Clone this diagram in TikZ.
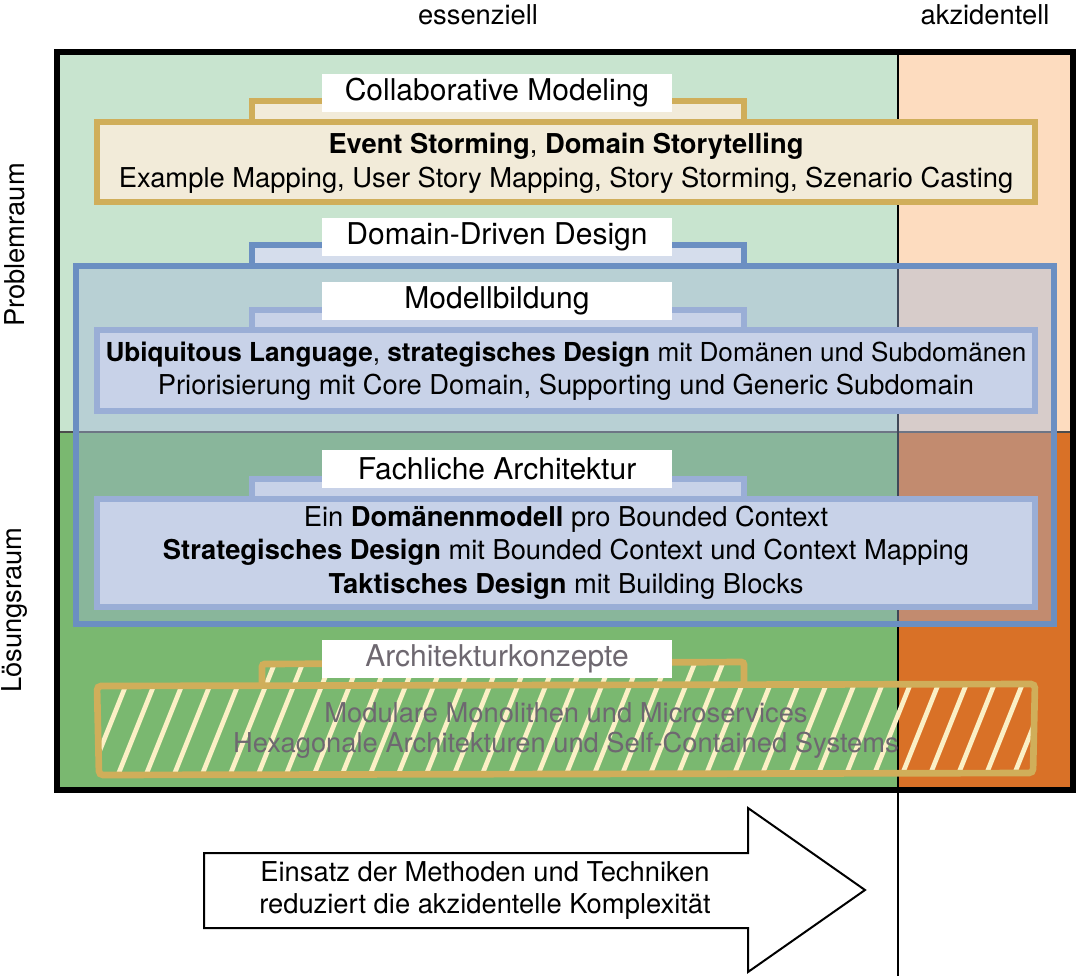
\documentclass[tikz,border=0pt]{standalone}
\usepackage{fontspec}
\setmainfont{TeX Gyre Heros}
\begin{document}
\begin{tikzpicture}[x=0.75pt,y=-0.75pt,
  lbl/.style={fill=white,minimum width=262.5pt,minimum height=29pt,inner sep=0pt,font=\fontsize{22.5}{26}\selectfont},
  txt/.style={font=\fontsize{20.5}{24}\selectfont,inner sep=0pt},
  gold/.style={draw=goldc,line width=5pt},
  blu/.style={draw=bluec,line width=5pt},
  lblu/.style={draw=lbluec,line width=5pt}]
\definecolor{goldc}{HTML}{D0AE5A}
\definecolor{bluec}{HTML}{6B8FC2}
\definecolor{lbluec}{HTML}{9AAED6}
\definecolor{grayt}{HTML}{6E6870}
\useasboundingbox (0,0) rectangle (1076,976);
% backgrounds
\fill[fill={rgb,255:red,200;green,228;blue,207}] (57,52) rectangle (898,432);
\fill[fill={rgb,255:red,253;green,220;blue,191}] (898,52) rectangle (1073,432);
\fill[fill={rgb,255:red,122;green,184;blue,112}] (57,432) rectangle (898,790);
\fill[fill={rgb,255:red,217;green,113;blue,39}] (898,432) rectangle (1073,790);
\draw[line width=2pt,black!70] (57,432) -- (1073,432);
\draw[line width=2pt] (898,52) -- (898,976);
% headers
\node[txt] (h1) at (478,15) {essenziell};
\node[txt] (h2) at (985,15) {akzidentell};
\node[txt,rotate=90] (s1) at (15,245) {Problemraum};
\node[txt,rotate=90] (s2) at (15,610) {Lösungsraum};
% Collaborative modeling
\filldraw[gold,fill={rgb,255:red,242;green,235;blue,217}] (252,101) rectangle (744,122);
\filldraw[gold,fill={rgb,255:red,242;green,235;blue,217}] (97,122) rectangle (1035,202);
\node[lbl] (cm) at (497,93) {Collaborative Modeling};
\node[txt] (cm1) at (566,146) {\textbf{Event Storming}, \textbf{Domain Storytelling}};
\node[txt] (cm2) at (566,180) {Example Mapping, User Story Mapping, Story Storming, Szenario Casting};
% DDD
\filldraw[blu,fill={rgb,255:red,213;green,221;blue,236}] (252,245) rectangle (744,266);
\filldraw[blu,fill={rgb,255:red,160;green,180;blue,220},fill opacity=0.4] (76,266) rectangle (1054,624);
\node[lbl] (ddd) at (497,237) {Domain-Driven Design};
% Modellbildung
\filldraw[lblu,fill={rgb,255:red,200;green,210;blue,232}] (252,310) rectangle (744,330);
\filldraw[lblu,fill={rgb,255:red,200;green,210;blue,232}] (97,330) rectangle (1035,411);
\node[lbl] (mb) at (497,301) {Modellbildung};
\node[txt,font=\fontsize{19.6}{24}\selectfont] (mb1) at (566,355) {\textbf{Ubiquitous Language}, \textbf{strategisches Design} mit Domänen und Subdomänen};
\node[txt] (mb2) at (566,387) {Priorisierung mit Core Domain, Supporting und Generic Subdomain};
% Fachliche Architektur
\filldraw[lblu,fill={rgb,255:red,200;green,210;blue,232}] (252,479) rectangle (744,499);
\filldraw[lblu,fill={rgb,255:red,200;green,210;blue,232}] (97,499) rectangle (1035,607);
\node[lbl] (fa) at (497,469) {Fachliche Architektur};
\node[txt] (fa1) at (566,519) {Ein \textbf{Domänenmodell} pro Bounded Context};
\node[txt] (fa2) at (566,552) {\textbf{Strategisches Design} mit Bounded Context und Context Mapping};
\node[txt] (fa3) at (566,586) {\textbf{Taktisches Design} mit Building Blocks};
% Architekturkonzepte (hatched)
\begin{scope}
\clip (262,662) rectangle (744,686) (97,686) rectangle (1035,773);
\foreach \i in {0,...,40}{
  \draw[line width=3.5pt,color={rgb,255:red,251;green,240;blue,198}] (60+\i*28,780) -- (110+\i*28,655);
}
\end{scope}
\draw[gold,rounded corners=2pt] (262,686) -- (262,664) -- (744,662) -- (744,686);
\draw[gold,rounded corners=3pt] (97,686) -- (1035,684) -- (1033,773) -- (99,775) -- cycle;
\node[lbl,text=grayt] (ak) at (497,659) {Architekturkonzepte};
\node[txt,text=grayt] (ak1) at (566,713) {Modulare Monolithen und Microservices};
\node[txt,text=grayt] (ak2) at (566,745) {Hexagonale Architekturen und Self-Contained Systems};
% outer frame
\draw[line width=4.5pt] (57,52) rectangle (1073,790);
% arrow
\draw[line width=1.5pt,fill=white] (204,853) -- (748,853) -- (748,808) -- (865,890) -- (748,972) -- (748,928) -- (204,928) -- cycle;
\node[txt,align=center] (ar) at (485,891) {Einsatz der Methoden und Techniken\\reduziert die akzidentelle Komplexität};
\end{tikzpicture}
\end{document}
